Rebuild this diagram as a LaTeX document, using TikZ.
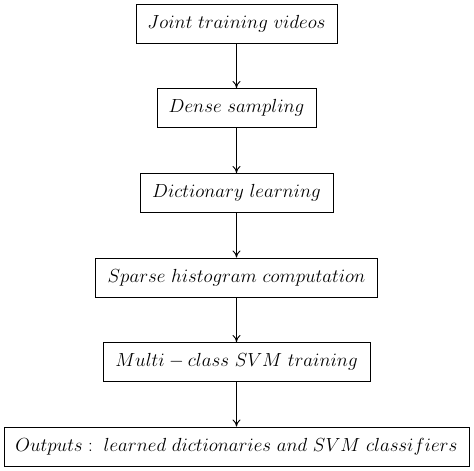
\documentclass[tikz,border=0pt]{standalone}
\usetikzlibrary{arrows.meta}
\newcommand{\boxtxt}[1]{\scalebox{1.097}{$#1$}}
\begin{document}
\begin{tikzpicture}[x=1pt,y=-1pt,
  stepbox/.style={draw, line width=0.9pt, minimum height=39pt, inner sep=0pt, font=\fontsize{17.28}{20}\selectfont},
  flow/.style={-{To[length=7pt,width=8pt]}, line width=0.9pt}]
\useasboundingbox (0,0) rectangle (474,471);
\node[stepbox, minimum width=201pt] (a) at (236.5,23.5) {\boxtxt{Joint\ training\ videos}};
\node[stepbox, minimum width=159pt] (b) at (236.5,108) {\boxtxt{Dense\ sampling}};
\node[stepbox, minimum width=193pt] (c) at (236.5,193) {\boxtxt{Dictionary\ learning}};
\node[stepbox, minimum width=282pt] (d) at (236.5,277.5) {\boxtxt{Sparse\ histogram\ computation}};
\node[stepbox, minimum width=267pt] (e) at (236.5,362) {\boxtxt{Multi-class\ SVM\ training}};
\node[stepbox, minimum width=465pt] (f) at (236.5,446.5) {\boxtxt{Outputs:\ learned\ dictionaries\ and\ SVM\ classifiers}};
\draw[flow] (a) -- (b);
\draw[flow] (b) -- (c);
\draw[flow] (c) -- (d);
\draw[flow] (d) -- (e);
\draw[flow] (e) -- (f);
\end{tikzpicture}
\end{document}
